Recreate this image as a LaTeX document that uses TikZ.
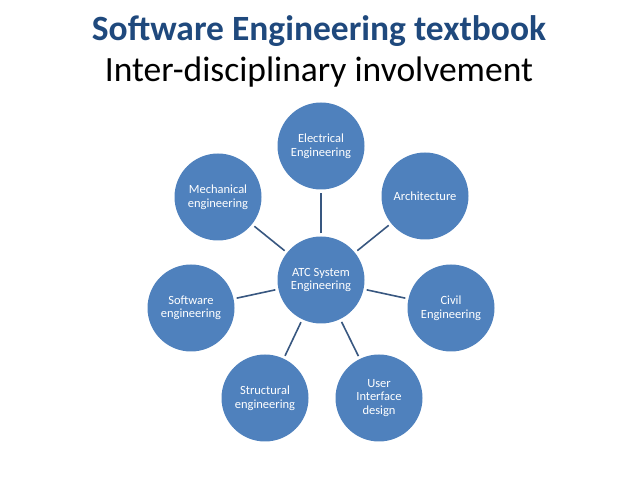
\documentclass[tikz,border=0pt]{standalone}
\usepackage{fontspec}
\setmainfont{Carlito}
\definecolor{bubble}{RGB}{79,129,189}
\definecolor{titleblue}{RGB}{31,73,125}
\definecolor{spoke}{RGB}{56,87,128}

\begin{document}
\begin{tikzpicture}[x=1pt,y=-1pt,
  disc/.style={circle,fill=bubble,minimum size=87pt,inner sep=0pt,align=center,
    text=white,font=\fontsize{12.5}{13.5}\selectfont},
  spokeline/.style={draw=spoke,line width=1.6pt,shorten <=3pt,shorten >=3pt}]

  \useasboundingbox (0,0) rectangle (638,478);

  \node[font=\bfseries\fontsize{35.5}{40}\selectfont,text=titleblue] (title) at (319,31) {Software Engineering textbook};
  \node[font=\fontsize{35.5}{40}\selectfont] (subtitle) at (319,72) {Inter-disciplinary involvement};

  \node[disc] (atc) at (321,280) {ATC System\\Engineering};

  \node[disc] (elec) at (321,146) {Electrical\\Engineering};
  \node[disc] (arch) at (425,196) {Architecture};
  \node[disc] (mech) at (218,197) {Mechanical\\engineering};
  \node[disc] (soft) at (191,308) {Software\\engineering};
  \node[disc] (civil) at (451,308) {Civil\\Engineering};
  \node[disc] (struct) at (265,398) {Structural\\engineering};
  \node[disc] (ui) at (379,398) {User\\Interface\\design};

  \draw[spokeline] (atc) -- (elec);
  \draw[spokeline] (atc) -- (arch);
  \draw[spokeline] (atc) -- (mech);
  \draw[spokeline] (atc) -- (soft);
  \draw[spokeline] (atc) -- (civil);
  \draw[spokeline] (atc) -- (struct);
  \draw[spokeline] (atc) -- (ui);

\end{tikzpicture}
\end{document}
